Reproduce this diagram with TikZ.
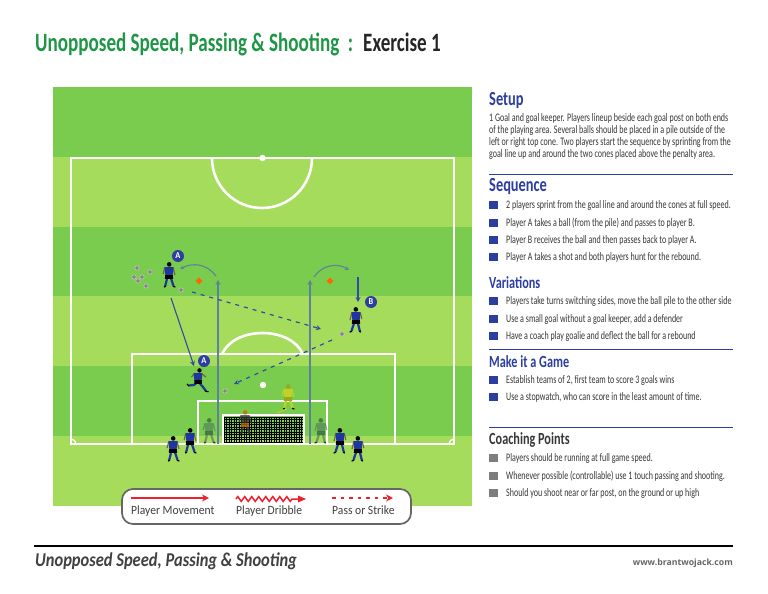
\documentclass[tikz,border=0pt]{standalone}
\usepackage{fontspec}
\usetikzlibrary{decorations.pathmorphing,arrows.meta,calc,shapes.geometric}
\setmainfont{Carlito}
\newfontfamily\bodyf[FakeStretch=0.695]{Carlito}
\newfontfamily\headf[FakeStretch=0.72]{Carlito}
\newfontfamily\footf[FakeStretch=0.84]{Carlito}
\newfontfamily\legf[FakeStretch=0.92]{Carlito}
\newfontfamily\urlf{Open Sans}
\definecolor{dkgreen}{RGB}{122,204,78}
\definecolor{ltgreen}{RGB}{165,220,92}
\definecolor{ttlgreen}{RGB}{30,150,70}
\definecolor{hblue}{RGB}{44,62,160}
\definecolor{txtgray}{RGB}{55,55,55}
\definecolor{bulgray}{RGB}{125,125,125}
\definecolor{runcol}{RGB}{95,130,155}
\definecolor{passblue}{RGB}{50,75,165}
\definecolor{legred}{RGB}{238,32,44}
\definecolor{jersey}{RGB}{30,55,160}
\definecolor{skin}{RGB}{120,100,60}
\definecolor{ghost}{RGB}{85,135,95}
\definecolor{keeper}{RGB}{190,210,40}
\tikzset{
  x=1pt,y=-1pt,
  band/.style={fill=#1,draw=none},
  pitchline/.style={draw=white,line width=2.6pt},
  runline/.style={draw=runcol,line width=1.2pt,-{Stealth[length=5pt,width=5pt]}},
  arcline/.style={draw=runcol,line width=1.1pt,-{Stealth[length=4pt,width=4pt]}},
  solidpass/.style={draw=passblue,line width=1.1pt,-{Stealth[length=5pt,width=5pt]}},
  dashpass/.style={draw=passblue,line width=1.2pt,dash pattern=on 4pt off 5pt,-{Stealth[length=5pt,width=5pt]}},
  badge/.style={circle,fill=hblue,text=white,inner sep=0pt,minimum size=12pt,font=\fontsize{9}{9}\selectfont\legf\bfseries},
  cone/.style={diamond,fill=orange!80!red,inner sep=0pt},
  ballm/.style={circle,fill=gray!95,draw=gray!40!white,line width=.5pt,inner sep=0pt,minimum size=4.4pt},
  heading/.style={anchor=west,inner sep=0pt,text=hblue,font=\fontsize{#1}{#1}\selectfont\headf\bfseries},
  bodyline/.style={anchor=west,inner sep=0pt,text=txtgray,font=\fontsize{11.5}{11.5}\selectfont\bodyf},
  bul/.style={fill=#1,draw=none,minimum width=9pt,minimum height=8pt,inner sep=0pt,anchor=west},
  rulel/.style={draw=hblue,line width=1pt},
  legline/.style={draw=legred,line width=1.5pt},
  legtext/.style={anchor=base west,inner sep=0pt,text=black!75,font=\fontsize{12.6}{12.6}\selectfont\legf},
  pics/standing/.style n args={3}{code={
    \draw[#1,line width=2.2pt] (-1.8,3)--(-2.8,7)--(-3.8,11) (1.8,3)--(3.2,7)--(4.5,11);
    \draw[black,line width=1.2pt] (-5,12)--(-3.2,11.3) (4,11.3)--(6.4,12);
    \draw[#2,line width=1.2pt] (-4.4,-7)--(-5.8,-1) (4.2,-7)--(6,0);
    \fill[#1] (-4.6,-8)--(4.6,-8)--(3.6,0.5)--(-3.6,0.5)--cycle;
    \fill[#3] (-3.8,0)--(3.8,0)--(4.2,3.8)--(-4.2,3.8)--cycle;
    \fill[#3] (0.2,-10.6) circle (2.3pt);
  }},
  pics/kicking/.style n args={3}{code={
    \draw[#1,line width=2.2pt] (-1,2.5)--(-4,5)--(-9,5.5) (1.5,3)--(5,7)--(8,11);
    \draw[black,line width=1.2pt] (-11,4)--(-9,6) (7,11)--(10.5,11.8);
    \draw[#2,line width=1.2pt] (-4,-6)--(-6.5,-3) (4,-6)--(8,-3);
    \fill[#1] (-4.4,-7)--(4.4,-7)--(3.6,0.5)--(-3.6,0.5)--cycle;
    \fill[#3] (-3.5,0)--(3.8,0)--(4,3.8)--(-3.7,3.8)--cycle;
    \fill[#3] (1.5,-9.6) circle (2.2pt);
  }},
}
\begin{document}
\begin{tikzpicture}
\useasboundingbox (0,0) rectangle (768,594);
\fill[white] (0,0) rectangle (768,594);
% title
\node[anchor=base west,inner sep=0pt,text=ttlgreen] (title) at (35,52) {\fontsize{26.5}{26.5}\selectfont\headf\bfseries Unopposed Speed, Passing \& Shooting\ \ :};
\node[anchor=base west,inner sep=0pt,text=black!85] (ex) at (363,52) {\fontsize{26.5}{26.5}\selectfont\headf\bfseries Exercise 1};
% pitch
\foreach \ya/\yb/\c in {87/157/dkgreen,157/227/ltgreen,227/296/dkgreen,296/366/ltgreen,366/436/dkgreen,436/506/ltgreen}
  \fill[band=\c] (53,\ya) rectangle (472,\yb);
\draw[pitchline] (71,444) -- (71,158) -- (454,158) -- (454,444) -- cycle;
\draw[white,line width=1.2pt] (71,439) arc[start angle=-90,end angle=0,radius=5];
\draw[white,line width=1.2pt] (454,439) arc[start angle=-90,end angle=-180,radius=5];
\draw[pitchline] (212,158) arc[start angle=180,end angle=0,radius=50];
\draw[pitchline] (132,444) -- (132,354) -- (395,354) -- (395,444);
\draw[pitchline] (222,354) .. controls (235,326) and (290,326) .. (303,354);
\draw[pitchline] (198,444) -- (198,401) -- (327,401) -- (327,444);
\draw[pitchline] (223,444) -- (223,415) -- (304,415) -- (304,444);
\fill[white] (262.5,158) circle (3.2pt);
\fill[white] (263,385) circle (3.2pt);
% net
\begin{scope}[black,line width=.7pt]
\foreach \xx in {224,226.5,...,303} \draw (\xx,417) -- (\xx,443);
\foreach \yy in {417,419.5,...,443} \draw (224,\yy) -- (303,\yy);
\end{scope}
% named points
\coordinate (runLs) at (218,444);
\coordinate (runLe) at (218,280);
\coordinate (runRs) at (310,444);
\coordinate (runRe) at (310,280);
\coordinate (arcLs) at (216,276);
\coordinate (arcLe) at (180,269);
\coordinate (arcRs) at (314,277);
\coordinate (arcRe) at (349,270);
\coordinate (pA1) at (171,298);
\coordinate (pA2) at (194,366);
\coordinate (pB1) at (358,277);
\coordinate (pB2) at (358,302);
\coordinate (d1s) at (192,292);
\coordinate (d1e) at (321,329);
\coordinate (d2s) at (332,340);
\coordinate (d2e) at (234,384);
% runs
\draw[runline] (runLs) -- (runLe);
\draw[runline] (runRs) -- (runRe);
\draw[arcline] (arcLs) .. controls (207,264) and (193,262) .. (arcLe);
\draw[arcline] (arcRs) .. controls (323,264) and (338,263) .. (arcRe);
\draw[solidpass] (pA1) -- (pA2);
\draw[solidpass] (pB1) -- (pB2);
\draw[dashpass] (d1s) -- (d1e);
\draw[dashpass] (d2s) -- (d2e);
% cones
\node[cone,minimum size=7pt] (coneL) at (199,281) {};
\node[cone,minimum size=7pt] (coneR) at (330,281) {};
% balls
\foreach \n/\p in {b1/{137,268},b2/{150,272},b3/{134,277},b4/{142,277},b5/{138,281},b6/{146,286},b7/{181,290},b8/{342,334},b9/{225,391}}
  \node[ballm] (\n) at (\p) {};
% players
\pic at (169,275) {standing={jersey}{skin}{black}};
\pic at (198,380) {kicking={jersey}{skin}{black}};
\pic[xscale=-1] at (356,320) {standing={jersey}{skin}{black}};
\pic at (288,397) {standing={keeper}{keeper}{keeper!80!black}};
\draw[keeper,line width=1pt] (277,413) -- (287,409);
\begin{scope}[opacity=.75]
\pic at (245,423) {standing={black!80}{black!70}{orange!80!black}};
\pic at (209,431) {standing={ghost}{ghost}{ghost!70!black}};
\pic[xscale=-1] at (321,431) {standing={ghost}{ghost}{ghost!70!black}};
\end{scope}
\pic at (173,449) {standing={jersey}{skin}{black}};
\pic at (190,441) {standing={jersey}{skin}{black}};
\pic[xscale=-1] at (340,441) {standing={jersey}{skin}{black}};
\pic[xscale=-1] at (358,449) {standing={jersey}{skin}{black}};
% badges
\node[badge] (bA1) at (178,256) {A};
\node[badge] (bA2) at (204,361) {A};
\node[badge] (bB) at (371,302) {B};
% legend
\draw[draw=black!60,fill=white,line width=1.7pt,rounded corners=11pt] (122,489) rectangle (411,524);
\coordinate (l1s) at (131,498);\coordinate (l1e) at (209,498);
\coordinate (l2s) at (236,499);\coordinate (l2e) at (306,499);
\coordinate (l3s) at (332,498);\coordinate (l3e) at (393,498);
\draw[legline,-{Stealth[length=7pt,width=7pt]}] (l1s) -- (l1e);
\draw[legline,decorate,decoration={zigzag,amplitude=2.4pt,segment length=7pt,post=lineto,post length=8pt}] (l2s) -- ($(l2e)+(-3,0)$);
\fill[legred] (l2e) -- ++(-8,-3.5) -- ++(0,7) -- cycle;
\draw[legline,dash pattern=on 3.5pt off 5pt,-{Stealth[length=7pt,width=7pt]}] (l3s) -- (l3e);
\node[legtext] (lt1) at (131,514) {Player Movement};
\node[legtext] (lt2) at (236,514) {Player Dribble};
\node[legtext] (lt3) at (332,514) {Pass or Strike};
% right column
\node[heading=20] (hSetup) at (489,101) {Setup};
\node[bodyline] (s1) at (489,118.5) {1 Goal and goal keeper. Players lineup beside each goal post on both ends};
\node[bodyline] (s2) at (489,130) {of the playing area. Several balls should be placed in a pile outside of the};
\node[bodyline] (s3) at (489,142) {left or right top cone. Two players start the sequence by sprinting from the};
\node[bodyline] (s4) at (489,154) {goal line up and around the two cones placed above the penalty area.};
\draw[rulel] (489,174.5) -- (733,174.5);
\node[heading=20] (hSeq) at (489,187) {Sequence};
\foreach \yy/\tt in {205/2 players sprint from the goal line and around the cones at full speed.,
  223/Player A takes a ball (from the pile) and passes to player B.,
  240/Player B receives the ball and then passes back to player A.,
  257/Player A takes a shot and both players hunt for the rebound.,
  301/Players take turns switching sides{,} move the ball pile to the other side,
  319/Use a small goal without a goal keeper{,} add a defender,
  336/Have a coach play goalie and deflect the ball for a rebound,
  380/Establish teams of 2{,} first team to score 3 goals wins,
  397/Use a stopwatch{,} who can score in the least amount of time.}{
  \node[bul=hblue] at (489,\yy) {};
  \node[bodyline] at (506,\yy) {\tt};
}
\node[heading=17] (hVar) at (489,283) {Variations};
\draw[rulel] (489,349.5) -- (733,349.5);
\node[heading=17] (hGame) at (489,361.5) {Make it a Game};
\draw[rulel] (489,427.5) -- (733,427.5);
\node[heading=17,text=txtgray] (hCoach) at (489,439.5) {Coaching Points};
\foreach \yy/\tt in {458/Players should be running at full game speed.,
  476/Whenever possible (controllable) use 1 touch passing and shooting.,
  493/Should you shoot near or far post{,} on the ground or up high}{
  \node[bul=bulgray] at (489,\yy) {};
  \node[bodyline] at (506,\yy) {\tt};
}
% footer
\draw[black,line width=2.6pt] (34,546) -- (733,546);
\node[anchor=west,inner sep=0pt,text=black!75] (ft) at (35,561.5) {\fontsize{19.6}{19.6}\selectfont\footf\bfseries\itshape Unopposed Speed, Passing \& Shooting};
\node[anchor=east,inner sep=0pt,text=black!60] (url) at (733,563) {\fontsize{8.7}{8.7}\selectfont\urlf\bfseries www.brantwojack.com};
\end{tikzpicture}
\end{document}
